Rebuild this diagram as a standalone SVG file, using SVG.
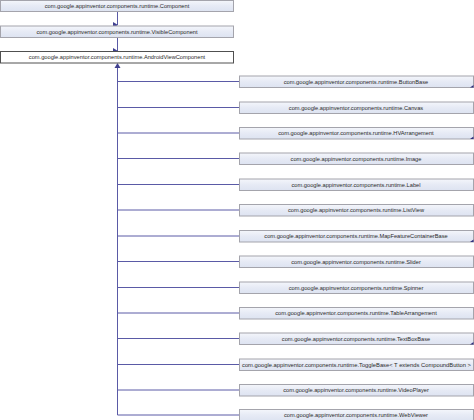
<svg xmlns="http://www.w3.org/2000/svg" width="474" height="420" viewBox="0 0 474 420">
<defs>
<linearGradient id="g" x1="0" y1="0" x2="0" y2="1">
<stop offset="0" stop-color="#f4f6fb"/>
<stop offset="0.5" stop-color="#e6eaf5"/>
<stop offset="1" stop-color="#dde3f1"/>
</linearGradient>
<marker id="ah" markerWidth="6" markerHeight="6" refX="3" refY="0.5" orient="auto" markerUnits="userSpaceOnUse" viewBox="0 0 6 6">
<path d="M0,5 L3,0 L6,5 Z" fill="#404090"/>
</marker>
</defs>
<style>
.b{fill:url(#g);stroke:#a4a4ac;stroke-width:1}
.cur{fill:#ffffff;stroke:#505050;stroke-width:1}
.t{font-family:"Liberation Sans",Arial,sans-serif;font-size:5.7px;fill:#2a2a2a;text-anchor:middle}
.c{stroke:#5a5aa6;stroke-width:1;fill:none}
.m{fill:#303080}
</style>
<rect width="474" height="420" fill="#ffffff"/>
<g id="connectors">
<line class="c" x1="117.5" y1="12" x2="117.5" y2="25" marker-end="url(#ah)"/>
<line class="c" x1="117.5" y1="38" x2="117.5" y2="51" marker-end="url(#ah)"/>
<path class="c" d="M117.5,415 V64"/>
<path d="M114.5,68 L117.5,63 L120.5,68 Z" fill="#404090"/>
<path class="c" d="M117.5,81.5 H239 M117.5,107.5 H239 M117.5,133 H239 M117.5,158.5 H239 M117.5,184.5 H239 M117.5,210 H239 M117.5,236 H239 M117.5,261.5 H239 M117.5,287.5 H239 M117.5,313 H239 M117.5,338.5 H239 M117.5,364.5 H239 M117.5,390 H239 M117.5,415 H239"/>
</g>
<g id="n-component"><rect class="b" x="0.5" y="0.5" width="233" height="11"/><text class="t" x="117" y="8">com.google.appinventor.components.runtime.Component</text></g>
<g id="n-visiblecomponent"><rect class="b" x="0.5" y="26" width="233" height="11.5"/><text class="t" x="117" y="33.8">com.google.appinventor.components.runtime.VisibleComponent</text></g>
<g id="n-androidviewcomponent"><rect class="cur" x="0.5" y="51.5" width="233" height="11.5"/><text class="t" x="117" y="59.3">com.google.appinventor.components.runtime.AndroidViewComponent</text></g>
<g id="n-buttonbase"><rect class="b" x="239.5" y="76" width="234" height="11.5"/><text class="t" x="356" y="83.8">com.google.appinventor.components.runtime.ButtonBase</text><path class="m" d="M470,87.5 H473.5 V85 Z"/></g>
<g id="n-canvas"><rect class="b" x="239.5" y="102" width="234" height="11.5"/><text class="t" x="356" y="109.8">com.google.appinventor.components.runtime.Canvas</text></g>
<g id="n-hvarrangement"><rect class="b" x="239.5" y="127.5" width="234" height="11.5"/><text class="t" x="356" y="135.3">com.google.appinventor.components.runtime.HVArrangement</text><path class="m" d="M470,139 H473.5 V136.5 Z"/></g>
<g id="n-image"><rect class="b" x="239.5" y="153" width="234" height="11.5"/><text class="t" x="356" y="160.8">com.google.appinventor.components.runtime.Image</text></g>
<g id="n-label"><rect class="b" x="239.5" y="179" width="234" height="11.5"/><text class="t" x="356" y="186.8">com.google.appinventor.components.runtime.Label</text></g>
<g id="n-listview"><rect class="b" x="239.5" y="204.5" width="234" height="11.5"/><text class="t" x="356" y="212.3">com.google.appinventor.components.runtime.ListView</text></g>
<g id="n-mapfeaturecontainerbase"><rect class="b" x="239.5" y="230.5" width="234" height="11.5"/><text class="t" x="356" y="238.3">com.google.appinventor.components.runtime.MapFeatureContainerBase</text><path class="m" d="M470,242 H473.5 V239.5 Z"/></g>
<g id="n-slider"><rect class="b" x="239.5" y="256" width="234" height="11.5"/><text class="t" x="356" y="263.8">com.google.appinventor.components.runtime.Slider</text></g>
<g id="n-spinner"><rect class="b" x="239.5" y="282" width="234" height="11.5"/><text class="t" x="356" y="289.8">com.google.appinventor.components.runtime.Spinner</text></g>
<g id="n-tablearrangement"><rect class="b" x="239.5" y="307.5" width="234" height="11.5"/><text class="t" x="356" y="315.3">com.google.appinventor.components.runtime.TableArrangement</text></g>
<g id="n-textboxbase"><rect class="b" x="239.5" y="333" width="234" height="11.5"/><text class="t" x="356" y="340.8">com.google.appinventor.components.runtime.TextBoxBase</text><path class="m" d="M470,344.5 H473.5 V342 Z"/></g>
<g id="n-togglebase"><rect class="b" x="239.5" y="359" width="234" height="11.5"/><text class="t" x="356.5" y="366.8" textLength="229" lengthAdjust="spacingAndGlyphs">com.google.appinventor.components.runtime.ToggleBase&lt; T extends CompoundButton &gt;</text></g>
<g id="n-videoplayer"><rect class="b" x="239.5" y="384.5" width="234" height="11.5"/><text class="t" x="356" y="392.3">com.google.appinventor.components.runtime.VideoPlayer</text></g>
<g id="n-webviewer"><rect class="b" x="239.5" y="409.5" width="234" height="11.5"/><text class="t" x="356" y="417.3">com.google.appinventor.components.runtime.WebViewer</text></g>
</svg>
